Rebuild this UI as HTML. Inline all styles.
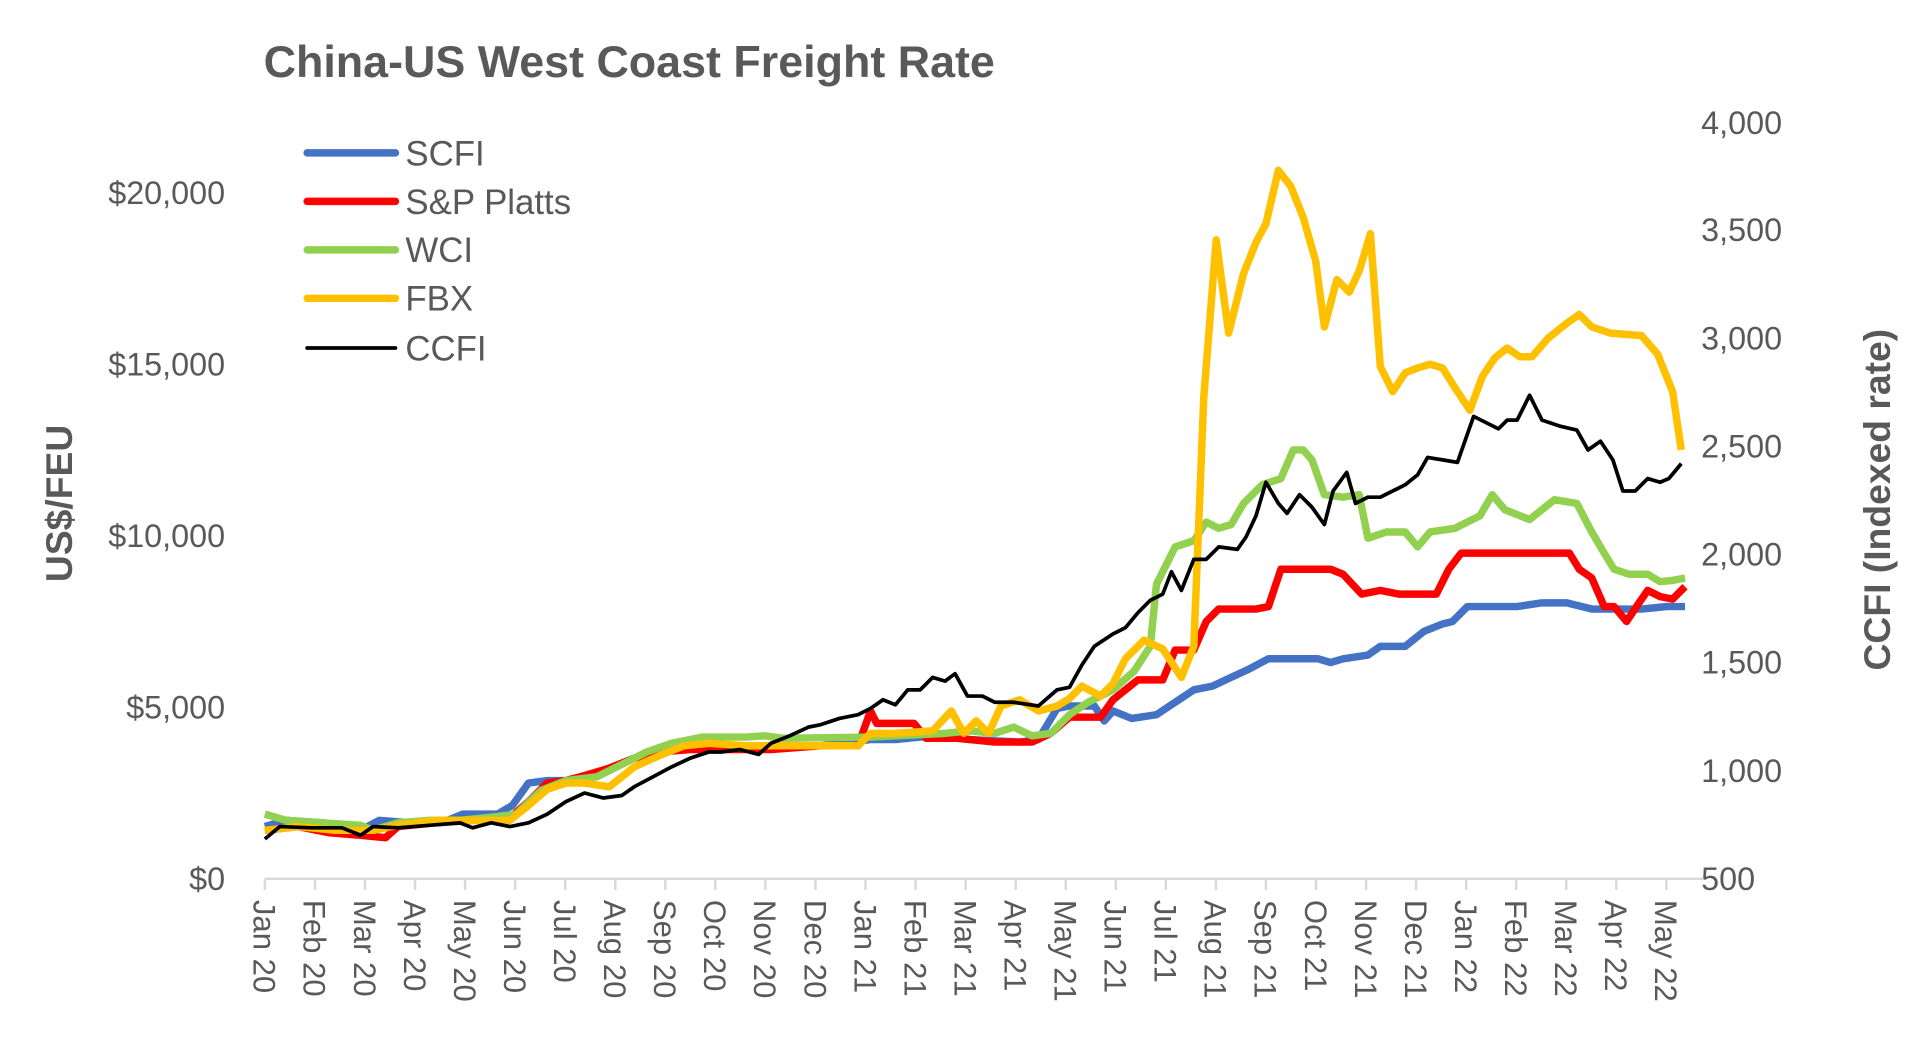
<!DOCTYPE html>
<html><head><meta charset="utf-8"><style>
html,body{margin:0;padding:0;background:#fff;width:1930px;height:1059px;overflow:hidden}
text{font-family:"Liberation Sans Narrow","Liberation Sans",sans-serif;fill:#595959}
</style></head><body>
<svg width="1930" height="1059" viewBox="0 0 1552 852" preserveAspectRatio="none" xmlns="http://www.w3.org/2000/svg">
<text x="212" y="62" font-size="36" font-weight="bold" textLength="588" lengthAdjust="spacingAndGlyphs">China-US West Coast Freight Rate</text>
<g font-size="26" text-anchor="end">
<text x="181" y="716">$0</text><text x="181" y="578">$5,000</text><text x="181" y="440">$10,000</text><text x="181" y="302">$15,000</text><text x="181" y="164">$20,000</text>
</g>
<g font-size="26">
<text x="1368" y="716">500</text><text x="1368" y="629">1,000</text><text x="1368" y="542">1,500</text><text x="1368" y="455">2,000</text><text x="1368" y="368">2,500</text><text x="1368" y="281">3,000</text><text x="1368" y="194">3,500</text><text x="1368" y="108">4,000</text>
</g>
<text transform="translate(58,405) rotate(-90)" font-size="30" font-weight="bold" text-anchor="middle" font-family="Liberation Sans">US$/FEU</text>
<text transform="translate(1520,402) rotate(-90)" font-size="30" font-weight="bold" text-anchor="middle" font-family="Liberation Sans">CCFI (Indexed rate)</text>
<line x1="213" y1="707" x2="1370" y2="707" stroke="#d9d9d9" stroke-width="2"/>
<g id="ticks" stroke="#d9d9d9" stroke-width="2"></g>
<g id="xl" font-size="25"></g>
<polyline fill="none" stroke="#4472c4" stroke-width="6" stroke-linejoin="round" points="213,665 230,660 260,662 290,668 305,660 330,662 360,660 372,655 400,655 412,648 425,630 440,628 455,628 470,625 490,618 510,610 530,603 555,600 575,600 600,600 630,600 660,600 700,595 720,595 740,593 760,593 780,595 800,596 820,597 835,595 850,570 860,568 880,568 888,580 895,572 910,578 930,575 945,565 960,555 975,552 990,545 1005,538 1020,530 1040,530 1060,530 1070,533 1080,530 1100,527 1110,520 1130,520 1145,508 1160,502 1168,500 1180,488 1200,488 1220,488 1240,485 1260,485 1280,490 1300,490 1320,490 1340,488 1355,488"/>
<polyline fill="none" stroke="#ff0000" stroke-width="6" stroke-linejoin="round" points="213,668 240,665 265,670 290,672 310,674 320,665 350,662 380,660 410,658 425,645 440,630 455,628 470,624 490,618 510,610 530,605 555,603 580,603 620,603 660,600 690,600 700,572 705,582 735,582 745,594 770,594 800,597 830,597 845,590 860,577 885,577 895,563 905,555 915,547 935,547 945,523 960,523 970,500 980,490 1010,490 1020,488 1030,458 1045,458 1070,458 1080,462 1095,478 1110,475 1125,478 1155,478 1165,458 1175,445 1200,445 1250,445 1262,445 1270,458 1280,465 1290,488 1298,488 1308,500 1318,485 1325,475 1335,480 1345,482 1355,472"/>
<polyline fill="none" stroke="#92d050" stroke-width="6" stroke-linejoin="round" points="213,655 230,660 260,662 290,664 300,668 320,662 345,660 370,660 400,657 415,655 435,636 455,628 480,625 500,615 520,605 540,598 565,593 600,593 615,592 630,594 700,593 760,590 780,588 800,590 815,585 830,592 845,590 860,575 875,565 895,555 912,540 925,520 930,470 945,440 960,435 970,420 980,425 990,422 1000,405 1015,390 1030,385 1040,362 1048,362 1055,370 1065,398 1080,400 1093,398 1100,433 1115,428 1130,428 1140,440 1150,428 1170,425 1180,420 1190,415 1200,398 1210,410 1230,418 1250,402 1268,405 1280,428 1290,445 1298,458 1310,462 1325,462 1335,468 1345,467 1355,465"/>
<polyline fill="none" stroke="#ffc000" stroke-width="6" stroke-linejoin="round" points="213,668 240,665 270,668 300,668 320,664 350,660 380,660 410,660 425,648 440,635 455,630 470,630 490,633 510,617 530,608 550,600 570,598 600,600 640,600 690,600 700,590 720,590 750,588 765,572 775,590 785,580 795,590 805,568 820,563 835,572 850,568 860,562 870,552 885,560 895,550 905,530 920,515 935,522 950,545 960,520 968,320 978,193 988,268 1000,220 1010,195 1018,180 1028,137 1038,150 1048,175 1058,210 1065,263 1075,225 1085,235 1093,218 1102,188 1110,295 1120,315 1130,300 1140,296 1150,293 1160,296 1170,312 1182,330 1192,303 1202,288 1212,280 1222,287 1232,287 1245,272 1260,260 1270,253 1280,263 1295,268 1320,270 1333,285 1345,315 1352,362"/>
<polyline fill="none" stroke="#000" stroke-width="3" stroke-linejoin="round" points="213,675 225,665 250,666 275,666 290,672 300,665 320,666 345,664 370,662 380,666 395,662 410,665 425,662 440,655 455,645 470,638 485,642 500,640 510,633 525,625 540,617 555,610 570,605 580,605 595,603 610,607 620,598 635,592 650,585 660,583 675,578 690,575 700,570 710,563 720,567 730,555 740,555 750,545 760,548 768,542 778,560 790,560 800,565 815,565 835,568 850,555 860,553 870,535 880,520 895,510 905,505 915,493 925,483 935,478 942,460 950,475 960,450 970,450 980,440 995,442 1002,432 1010,415 1018,388 1028,405 1035,413 1045,398 1055,408 1065,422 1072,395 1083,380 1090,405 1100,400 1110,400 1120,395 1130,390 1140,382 1148,368 1160,370 1172,372 1185,335 1195,340 1205,345 1212,338 1220,338 1230,318 1240,338 1255,343 1268,346 1277,362 1287,355 1297,370 1305,395 1315,395 1325,385 1335,388 1342,385 1352,373"/>
<g stroke-linecap="round">
<line x1="247" y1="123" x2="318" y2="123" stroke="#4472c4" stroke-width="6"/>
<line x1="247" y1="162" x2="318" y2="162" stroke="#ff0000" stroke-width="6"/>
<line x1="247" y1="201" x2="318" y2="201" stroke="#92d050" stroke-width="6"/>
<line x1="247" y1="240" x2="318" y2="240" stroke="#ffc000" stroke-width="6"/>
<line x1="247" y1="280" x2="318" y2="280" stroke="#000" stroke-width="3"/>
</g>
<g font-size="28">
<text x="326" y="133">SCFI</text><text x="326" y="172">S&amp;P Platts</text><text x="326" y="211">WCI</text><text x="326" y="250">FBX</text><text x="326" y="290">CCFI</text>
</g>
</svg>
<script>
var ns="http://www.w3.org/2000/svg",t=document.getElementById("ticks"),xl=document.getElementById("xl");
var m=["Jan","Feb","Mar","Apr","May","Jun","Jul","Aug","Sep","Oct","Nov","Dec"];
for(var i=0;i<29;i++){var x=213+40.25*i;
var l=document.createElementNS(ns,"line");l.setAttribute("x1",x);l.setAttribute("x2",x);l.setAttribute("y1",707);l.setAttribute("y2",716);t.appendChild(l);
var s=document.createElementNS(ns,"text");s.setAttribute("transform","translate("+(x-9)+",724) rotate(90)");s.textContent=m[i%12]+" "+(20+Math.floor(i/12));xl.appendChild(s);}
</script>
</body></html>
